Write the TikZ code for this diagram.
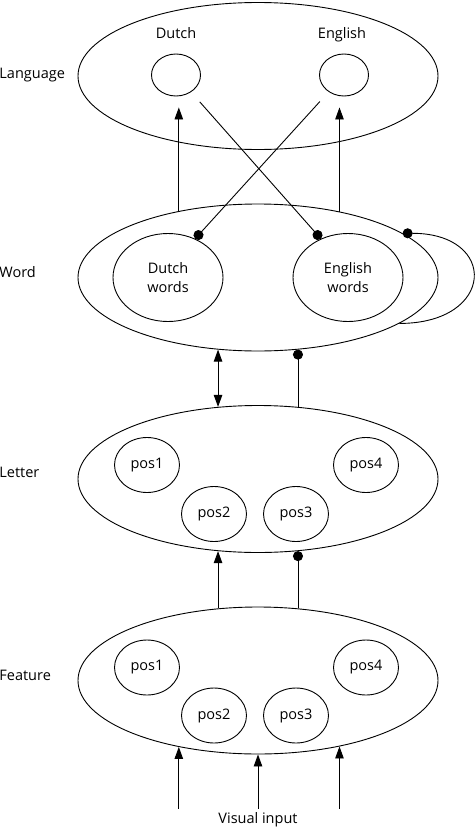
\documentclass[tikz,border=0pt]{standalone}
\usepackage{fontspec}
\setmainfont{Open Sans}
\usetikzlibrary{arrows.meta, positioning, shapes.geometric, calc}
\tikzset{
  layer/.style={draw, ellipse, minimum width=360pt, minimum height=147pt, inner sep=0pt}, % one level of the model
  unit/.style={draw, ellipse, inner sep=0pt, align=center},
  langunit/.style={unit, minimum width=49pt, minimum height=42pt},
  wordpool/.style={unit, minimum width=110pt, minimum height=88pt},
  slot/.style={unit, minimum width=65pt, minimum height=55pt},
  levelname/.style={anchor=base west, inner sep=0pt},
  excit/.style={-{Triangle[length=12pt, width=8.5pt]}}, % excitatory
  inhib/.style={-{Circle[length=10pt]}}, % inhibitory
  twoway/.style={{Triangle[length=12pt, width=8.5pt]}-{Triangle[length=12pt, width=8.5pt]}},
}

\begin{document}
\begin{tikzpicture}[x=1pt, y=1pt, node distance=201.5pt, line width=0.9pt,
    font=\fontsize{14.5}{19}\selectfont]
    \useasboundingbox (0,0) rectangle (474,-827);

    \node[layer] (lang) at (258,-76) {};
    \node[layer, below of=lang] (word) {};
    \node[layer, below of=word] (letter) {};
    \node[layer, below of=letter] (feature) {};

    \node[levelname] (nlang) at (-1,-78) {Language};
    \node[levelname] (nword) at (-1,-277) {Word};
    \node[levelname] (nletter) at (-1,-477) {Letter};
    \node[levelname] (nfeature) at (-1,-680) {Feature};

    % language nodes
    \node[langunit] (ldutch) at ($(lang)+(-82,1)$) {};
    \node[langunit] (lenglish) at ($(lang)+(86,1)$) {};
    \node[anchor=base] (tdutch) at ($(ldutch)+(0,37)$) {Dutch};
    \node[anchor=base] (tenglish) at ($(lenglish)+(-2,37)$) {English};

    % word pools
    \node[wordpool] (dwords) at ($(word)+(-90,0)$) {Dutch\\words};
    \node[wordpool] (ewords) at ($(word)+(90,0)$) {English\\words};

    % letter and feature positions
    \node[slot] (lpos1) at ($(letter)+(-111,14)$) {pos1};
    \node[slot] (lpos2) at ($(letter)+(-44,-35)$) {pos2};
    \node[slot] (lpos3) at ($(letter)+(38,-35)$) {pos3};
    \node[slot] (lpos4) at ($(letter)+(108,14)$) {pos4};
    \node[slot] (fpos1) at ($(feature)+(-111,13)$) {pos1};
    \node[slot] (fpos2) at ($(feature)+(-44,-35)$) {pos2};
    \node[slot] (fpos3) at ($(feature)+(38,-35)$) {pos3};
    \node[slot] (fpos4) at ($(feature)+(108,13)$) {pos4};

    \node[anchor=base] (vin) at ($(feature.south)+(0,-69)$) {Visual input};

    \draw[excit, shorten >=11pt] (word.140) -- (word.140 |- ldutch.south);
    \draw[excit, shorten >=11pt] (word.39) -- (word.39 |- lenglish.south);
    \draw[inhib, shorten <=13pt] (ldutch) -- (ewords.125);
    \draw[inhib, shorten <=13pt] (lenglish) -- (dwords.55);
    \draw[inhib] (word.-18) .. controls +(96,0) and +(96,0) .. (word.17);

    \draw[twoway] (word.-119) -- (letter.119);
    \draw[inhib] (letter.61) -- (word.-61);
    \draw[excit] (feature.119) -- (letter.-119);
    \draw[inhib] (feature.61) -- (letter.-61);

    \draw[excit] (feature.-140 |- vin.north) -- (feature.-140);
    \draw[excit] (vin.north) -- (feature.south);
    \draw[excit] (feature.-39 |- vin.north) -- (feature.-39);
\end{tikzpicture}
\end{document}
